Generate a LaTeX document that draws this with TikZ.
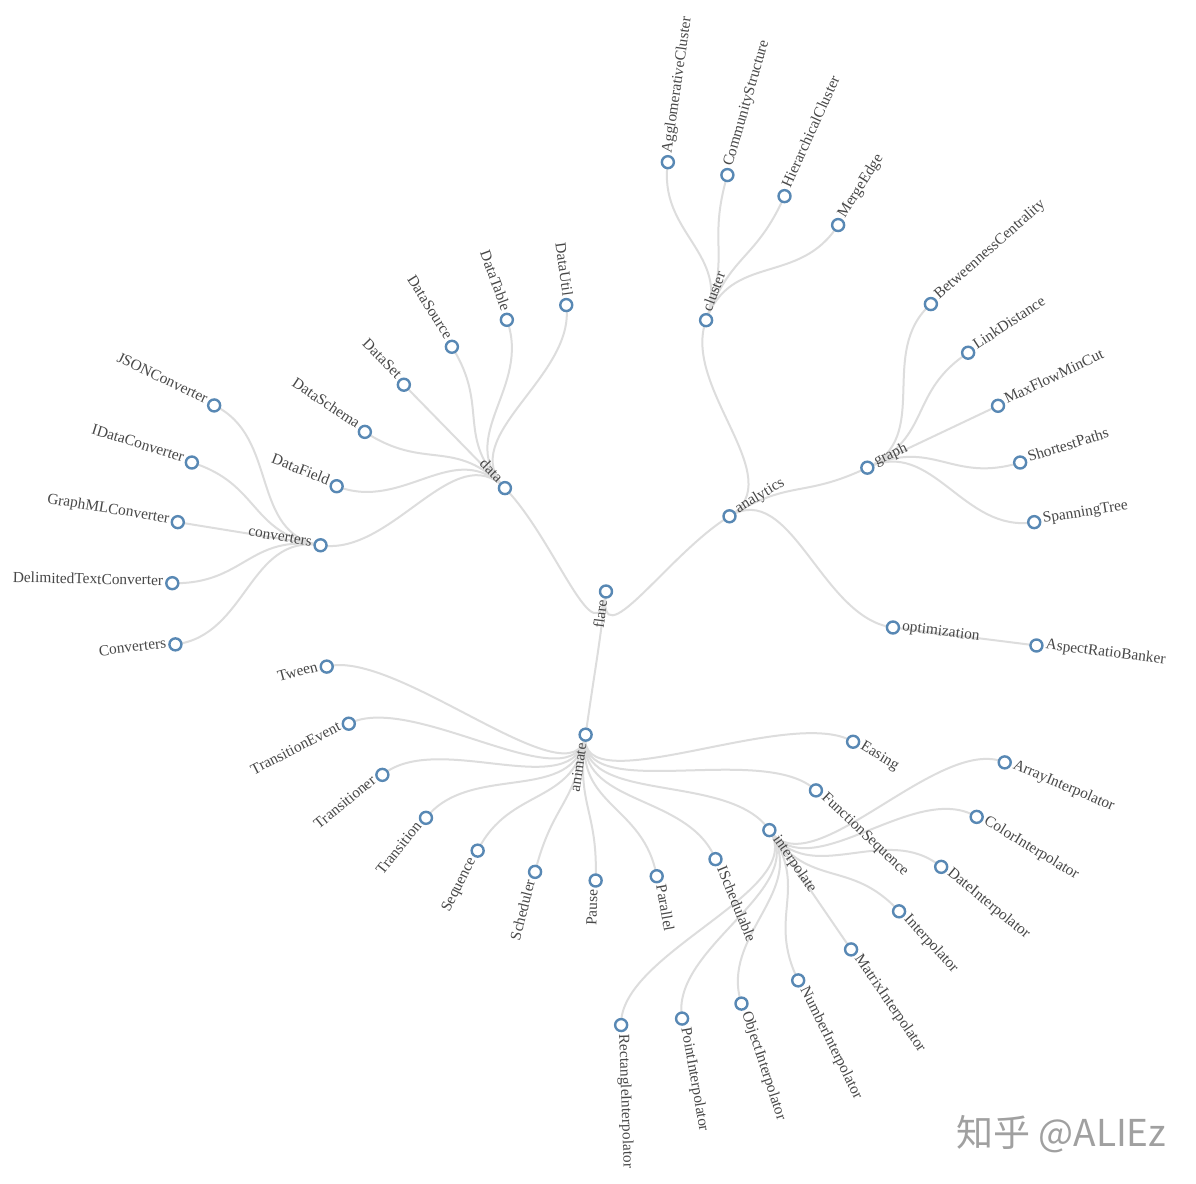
\documentclass[tikz,border=0pt]{standalone}
\usepackage{fontspec}
\setmainfont{Liberation Serif}
\newfontfamily\cjkfont{Noto Sans CJK SC}
\definecolor{dotblue}{RGB}{88,136,180}
\definecolor{linkgray}{RGB}{221,221,221}
\definecolor{txtgray}{RGB}{72,72,72}
\definecolor{wmgray}{RGB}{160,160,160}
\pgfdeclarelayer{bg}
\pgfsetlayers{bg,main}
\begin{document}
\begin{tikzpicture}[x=1pt,y=-1pt,
  dot/.style={circle,draw=dotblue,line width=2.4pt,fill=white,minimum size=12pt,inner sep=0pt},
  lbl/.style={inner sep=0pt,text=txtgray,font=\fontsize{15.4pt}{18pt}\selectfont},
  link/.style={draw=linkgray,line width=2pt}]
\useasboundingbox (0,0) rectangle (1196,1183);
\foreach \nm/\tA/\dA in {
  flare/187.15/0, analytics/58.65/1, animate/188.1/1, data/315.65/1,
  cluster/20.25/2, graph/64.65/2, optimization/97.15/2,
  Easing/121.3/2, FunctionSequence/133.45/2, interpolate/145.6/2, ISchedulable/157.75/2,
  Parallel/169.9/2, Pause/182.05/2, Scheduler/194.2/2, Sequence/206.35/2,
  Transition/218.5/2, Transitioner/230.65/2, TransitionEvent/242.8/2, Tween/254.95/2,
  converters/279.2/2, DataField/291.35/2, DataSchema/303.5/2, DataSet/315.65/2,
  DataSource/327.8/2, DataTable/339.95/2, DataUtil/352.1/2,
  AgglomerativeCluster/8.2/3, CommunityStructure/16.25/3, HierarchicalCluster/24.3/3, MergeEdge/32.35/3,
  BetweennessCentrality/48.5/3, LinkDistance/56.6/3, MaxFlowMinCut/64.65/3, ShortestPaths/72.7/3, SpanningTree/80.8/3,
  AspectRatioBanker/97.15/3,
  ArrayInterpolator/113.2/3, ColorInterpolator/121.3/3, DateInterpolator/129.4/3, Interpolator/137.5/3,
  MatrixInterpolator/145.6/3, NumberInterpolator/153.7/3, ObjectInterpolator/161.8/3,
  PointInterpolator/169.9/3, RectangleInterpolator/178.0/3,
  Converters/263.0/3, DelimitedTextConverter/271.1/3, GraphMLConverter/279.2/3,
  IDataConverter/287.3/3, JSONConverter/295.4/3}{
  \pgfmathsetmacro\rr{144.6*\dA}
  \pgfmathsetmacro\lr{\rr+9}
  \pgfmathsetmacro\px{606+\rr*sin(\tA)}
  \pgfmathsetmacro\py{591.5-\rr*cos(\tA)}
  \pgfmathsetmacro\qx{606+\lr*sin(\tA)}
  \pgfmathsetmacro\qy{591.5-\lr*cos(\tA)}
  \node[dot] (\nm) at (\px,\py) {};
  \expandafter\xdef\csname ang\nm\endcsname{\tA}
  \expandafter\xdef\csname dep\nm\endcsname{\dA}
  \ifdim\tA pt<180pt
    \pgfmathsetmacro\rot{90-\tA}
    \node[lbl,anchor=mid west,rotate=\rot] (l-\nm) at (\qx,\qy) {\nm};
  \else
    \pgfmathsetmacro\rot{270-\tA}
    \node[lbl,anchor=mid east,rotate=\rot] (l-\nm) at (\qx,\qy) {\nm};
  \fi
}
\begin{pgfonlayer}{bg}
\fill[white] (0,0) rectangle (1196,1183);
\foreach \p/\c in {
  flare/analytics, flare/animate, flare/data,
  analytics/cluster, analytics/graph, analytics/optimization,
  cluster/AgglomerativeCluster, cluster/CommunityStructure, cluster/HierarchicalCluster, cluster/MergeEdge,
  graph/BetweennessCentrality, graph/LinkDistance, graph/MaxFlowMinCut, graph/ShortestPaths, graph/SpanningTree,
  optimization/AspectRatioBanker,
  animate/Easing, animate/FunctionSequence, animate/interpolate, animate/ISchedulable,
  animate/Parallel, animate/Pause, animate/Scheduler, animate/Sequence,
  animate/Transition, animate/Transitioner, animate/TransitionEvent, animate/Tween,
  interpolate/ArrayInterpolator, interpolate/ColorInterpolator, interpolate/DateInterpolator,
  interpolate/Interpolator, interpolate/MatrixInterpolator, interpolate/NumberInterpolator,
  interpolate/ObjectInterpolator, interpolate/PointInterpolator, interpolate/RectangleInterpolator,
  data/converters, data/DataField, data/DataSchema, data/DataSet, data/DataSource, data/DataTable, data/DataUtil,
  converters/Converters, converters/DelimitedTextConverter, converters/GraphMLConverter,
  converters/IDataConverter, converters/JSONConverter}{
  \pgfmathsetmacro\ta{\csname ang\p\endcsname}
  \pgfmathsetmacro\tb{\csname ang\c\endcsname}
  \pgfmathsetmacro\rmd{144.6*(\csname dep\p\endcsname+0.5)}
  \pgfmathsetmacro\ax{606+\rmd*sin(\ta)}
  \pgfmathsetmacro\ay{591.5-\rmd*cos(\ta)}
  \pgfmathsetmacro\bx{606+\rmd*sin(\tb)}
  \pgfmathsetmacro\by{591.5-\rmd*cos(\tb)}
  \draw[link] (\p.center) .. controls (\ax,\ay) and (\bx,\by) .. (\c.center);
}
\end{pgfonlayer}
\node[anchor=west,inner sep=0pt,text=wmgray,font=\cjkfont\fontsize{37pt}{40pt}\selectfont] (wm) at (956,1134) {知乎 @ALIEz};
\end{tikzpicture}
\end{document}
